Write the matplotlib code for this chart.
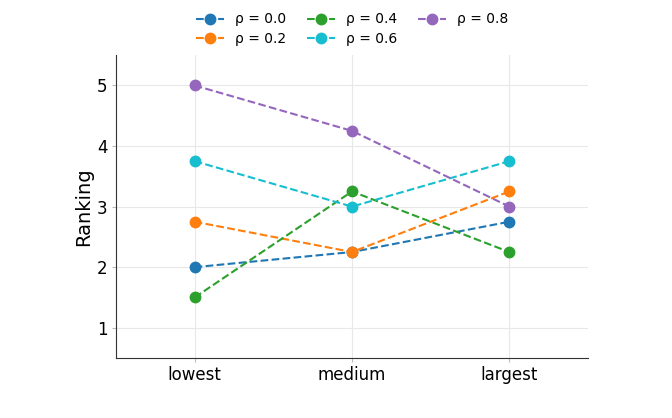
import matplotlib
matplotlib.use("Agg")
import matplotlib.pyplot as plt

categories = ["lowest", "medium", "largest"]
labels = ["ρ = 0.0", "ρ = 0.2", "ρ = 0.4", "ρ = 0.6", "ρ = 0.8"]
r00 = [2.0, 2.25, 2.75]
r02 = [2.75, 2.25, 3.25]
r04 = [1.5, 3.25, 2.25]
r06 = [3.75, 3.0, 3.75]
r08 = [5.0, 4.25, 3.0]
series = [r00, r02, r04, r06, r08]
colors = ["#1f77b4", "#ff7f0e", "#2ca02c", "#17becf", "#9467bd"]

fig = plt.figure(figsize=(6.72, 4.18), dpi=100)
ax = fig.add_axes([0.1726, 0.1435, 0.7024, 0.7245])
x = list(range(len(categories)))
for vals, lab, c in zip(series, labels, colors):
    ax.plot(x, vals, linestyle="--", marker="o", markersize=7.5, color=c, label=lab, linewidth=1.5)

ax.set_xlim(-0.5, 2.5)
ax.set_ylim(0.5, 5.5)
ax.set_xticks(x)
ax.set_xticklabels(categories, fontsize=12)
ax.set_yticks([1, 2, 3, 4, 5])
ax.tick_params(axis="y", labelsize=12)
ax.tick_params(axis="both", length=3, pad=3, color="#bbbbbb")
ax.set_ylabel("Ranking", fontsize=14, labelpad=3)
ax.grid(True, color="#e8e8e8", linewidth=0.8)
ax.set_axisbelow(True)
for s in ["top", "right"]:
    ax.spines[s].set_visible(False)
for s in ["left", "bottom"]:
    ax.spines[s].set_color("#333333")
ax.legend(loc="upper center", bbox_to_anchor=(0.5238, 1.0), bbox_transform=fig.transFigure,
          ncol=3, frameon=False, fontsize=10, handlelength=2.0, columnspacing=1.5,
          handletextpad=0.8, labelspacing=0.4)
fig.savefig("out.png", dpi=100)
